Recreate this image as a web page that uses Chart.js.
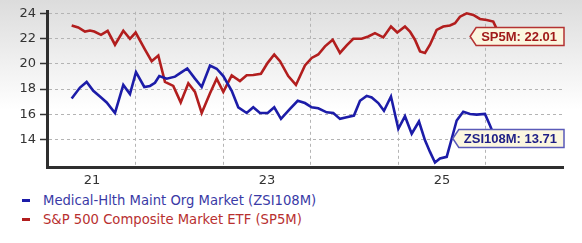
<!DOCTYPE html>
<html lang="en">
<head>
  <meta charset="UTF-8" />
  <title>ZSI108M vs SP5M</title>
  <script src="https://cdn.jsdelivr.net/npm/chart.js"></script>
  <style>
    * { box-sizing: border-box; margin: 0; padding: 0; }
    body {
      width: 582px; height: 243px; overflow: hidden; position: relative;
      font-family: "DejaVu Sans", Verdana, sans-serif;
      background: linear-gradient(#dcdcdc 0px, #ffffff 110px);
    }
    #chart { position: absolute; left: 0; top: 0; }
    .legend { position: absolute; left: 22px; top: 191px; font-size: 13.2px; }
    .legend div { height: 19px; line-height: 19px; white-space: nowrap; }
    .legend span.mark {
      display: inline-block; width: 8px; height: 3px; vertical-align: middle;
      margin-right: 13px; position: relative; top: -1px;
    }
  </style>
</head>
<body>

<canvas id="chart" width="582" height="190"></canvas>
<div class="legend" id="legend"></div>

<script>
  // decimal years (21 = 2021) and index values
  const blueDates = [20.768, 20.863, 20.939, 21.015, 21.091, 21.168, 21.263, 21.358, 21.434, 21.503,
    21.598, 21.663, 21.72, 21.769, 21.854, 21.949, 22.025, 22.089, 22.177, 22.254,
    22.349, 22.425, 22.501, 22.597, 22.672, 22.768, 22.843, 22.92, 23.008, 23.083,
    23.16, 23.263, 23.351, 23.434, 23.511, 23.586, 23.682, 23.758, 23.834, 23.911,
    23.994, 24.063, 24.139, 24.197, 24.272, 24.337, 24.417, 24.501, 24.577, 24.654,
    24.737, 24.806, 24.863, 24.92, 24.977, 25.054, 25.111, 25.168, 25.243, 25.32,
    25.397, 25.491, 25.549, 25.63];
  const blueValues = [17.25, 18.12, 18.57, 17.86, 17.41, 16.94, 16.1, 18.33, 17.6, 19.35,
    18.17, 18.25, 18.5, 19.04, 18.83, 18.99, 19.35, 19.64, 18.83, 18.17,
    19.88, 19.62, 19.04, 17.86, 16.55, 16.1, 16.55, 16.1, 16.1, 16.55,
    15.63, 16.42, 17.07, 16.89, 16.55, 16.47, 16.15, 16.1, 15.63, 15.76,
    15.89, 17.07, 17.46, 17.33, 16.89, 16.28, 17.41, 14.84, 15.84, 14.45,
    15.42, 13.92, 13.0, 12.16, 12.48, 12.61, 14.05, 15.5, 16.2, 16.02,
    15.97, 16.02, 15.1, 13.71];

  const redDates = [20.768, 20.843, 20.92, 20.977, 21.026, 21.103, 21.179, 21.263, 21.358, 21.434,
    21.499, 21.606, 21.682, 21.758, 21.834, 21.929, 22.014, 22.101, 22.177, 22.254,
    22.349, 22.425, 22.501, 22.597, 22.691, 22.768, 22.843, 22.931, 23.008, 23.083,
    23.149, 23.243, 23.331, 23.434, 23.511, 23.586, 23.663, 23.751, 23.834, 23.911,
    23.986, 24.082, 24.158, 24.234, 24.329, 24.417, 24.489, 24.577, 24.634, 24.691,
    24.749, 24.806, 24.863, 24.939, 25.015, 25.091, 25.149, 25.206, 25.282, 25.358,
    25.434, 25.511, 25.586, 25.68];
  const redValues = [23.06, 22.9, 22.58, 22.66, 22.58, 22.32, 22.64, 21.53, 22.64, 22.0,
    22.5, 21.14, 20.22, 20.67, 18.57, 18.25, 16.94, 18.46, 17.78, 16.1,
    17.67, 18.83, 17.78, 19.09, 18.64, 19.1, 19.12, 19.22, 20.09, 20.75,
    20.22, 19.04, 18.33, 19.88, 20.48, 20.75, 21.4, 21.93, 20.88, 21.48,
    22.0, 22.0, 22.19, 22.45, 22.11, 22.98, 22.5, 22.98, 22.58, 21.93,
    21.0, 20.88, 21.53, 22.71, 22.98, 23.06, 23.24, 23.76, 24.03, 23.9,
    23.58, 23.5, 23.37, 22.01];

  const seriesNames = ['Medical-Hlth Maint Org Market (ZSI108M)', 'S&P 500 Composite Market ETF (SP5M)'];
  const seriesTags = ['ZSI108M', 'SP5M'];
  const lastValues = [13.71, 22.01];
  const xTicks = [21, 21.5, 22.5, 23, 23.5, 24.5, 25, 25.5];
  const xLabels = [21, 23, 25];
  const yTicks = [14, 16, 18, 20, 22, 24];

  const lineColors = ['#1c1ca8', '#b21e1e'];
  const textColors = ['#3a3aa6', '#b83030'];

  function pts(dates, values) {
    return dates.map((d, i) => ({ x: d, y: values[i] }));
  }

  // value callouts on the right edge
  const callouts = {
    id: 'callouts',
    afterDatasetsDraw(chart) {
      const ctx = chart.ctx;
      const y = chart.scales.y;
      const right = chart.chartArea.right + 1;
      const styles = [
        { border: '#5a5ab8', text: '#1e1e86', dy: -5 },
        { border: '#b43232', text: '#a01a1a', dy: -3 }
      ];
      ctx.save();
      ctx.font = 'bold 13px "Liberation Sans", Arial, sans-serif';
      lastValues.forEach((v, i) => {
        const label = seriesTags[i] + ': ' + v.toFixed(2);
        const w = ctx.measureText(label).width;
        const cy = Math.round(y.getPixelForValue(v) + styles[i].dy) + 0.5;
        const left = right - w - 12;
        const h = 18;
        ctx.beginPath();
        ctx.moveTo(left - 6, cy);
        ctx.lineTo(left, cy - h / 2);
        ctx.lineTo(right, cy - h / 2);
        ctx.lineTo(right, cy + h / 2);
        ctx.lineTo(left, cy + h / 2);
        ctx.closePath();
        ctx.fillStyle = '#fbf6df';
        ctx.fill();
        ctx.lineWidth = 1.5;
        ctx.strokeStyle = styles[i].border;
        ctx.stroke();
        ctx.fillStyle = styles[i].text;
        ctx.textBaseline = 'middle';
        ctx.fillText(label, left + 5, cy + 1);
      });
      ctx.restore();
    }
  };

  Chart.defaults.font.family = '"DejaVu Sans", Verdana, sans-serif';
  Chart.defaults.font.size = 13;
  Chart.defaults.color = '#333';

  new Chart(document.getElementById('chart'), {
    type: 'line',
    data: {
      datasets: [
        { data: pts(blueDates, blueValues), borderColor: lineColors[0], borderWidth: 2.6 },
        { data: pts(redDates, redValues), borderColor: lineColors[1], borderWidth: 2.6 }
      ]
    },
    options: {
      responsive: false,
      animation: false,
      layout: { padding: { top: 10, right: 19, left: 0, bottom: 0 } },
      elements: { point: { radius: 0 }, line: { tension: 0 } },
      plugins: { legend: { display: false }, tooltip: { enabled: false } },
      scales: {
        x: {
          type: 'linear',
          min: 20.486,
          max: 26.383,
          afterBuildTicks: s => { s.ticks = xTicks.map(v => ({ value: v })); },
          afterFit: s => { s.height = 23; },
          ticks: {
            autoSkip: false, maxRotation: 0, padding: 6,
            callback: v => xLabels.includes(v) ? String(v) : ''
          },
          grid: {
            drawTicks: false,
            color: c => (c.tick && c.tick.value % 1 !== 0) ? '#b4b4b4' : 'rgba(0,0,0,0)'
          },
          border: { color: '#2e2e2e', width: 3, dash: [3, 3] }
        },
        y: {
          min: 11.8,
          max: 24.15,
          afterBuildTicks: s => { s.ticks = yTicks.map(v => ({ value: v })); },
          afterFit: s => { s.width = 47; },
          ticks: { padding: 4 },
          grid: {
            color: '#b4b4b4', tickLength: 7, tickColor: '#333', tickWidth: 1.5,
            tickBorderDash: []
          },
          border: { color: '#2e2e2e', width: 3, dash: [3, 3] }
        }
      }
    },
    plugins: [callouts]
  });

  // legend below the chart
  const legend = document.getElementById('legend');
  seriesNames.forEach((name, i) => {
    const row = document.createElement('div');
    row.style.color = textColors[i];
    const mark = document.createElement('span');
    mark.className = 'mark';
    mark.style.background = lineColors[i];
    row.appendChild(mark);
    row.appendChild(document.createTextNode(name));
    legend.appendChild(row);
  });
</script>

</body>
</html>
